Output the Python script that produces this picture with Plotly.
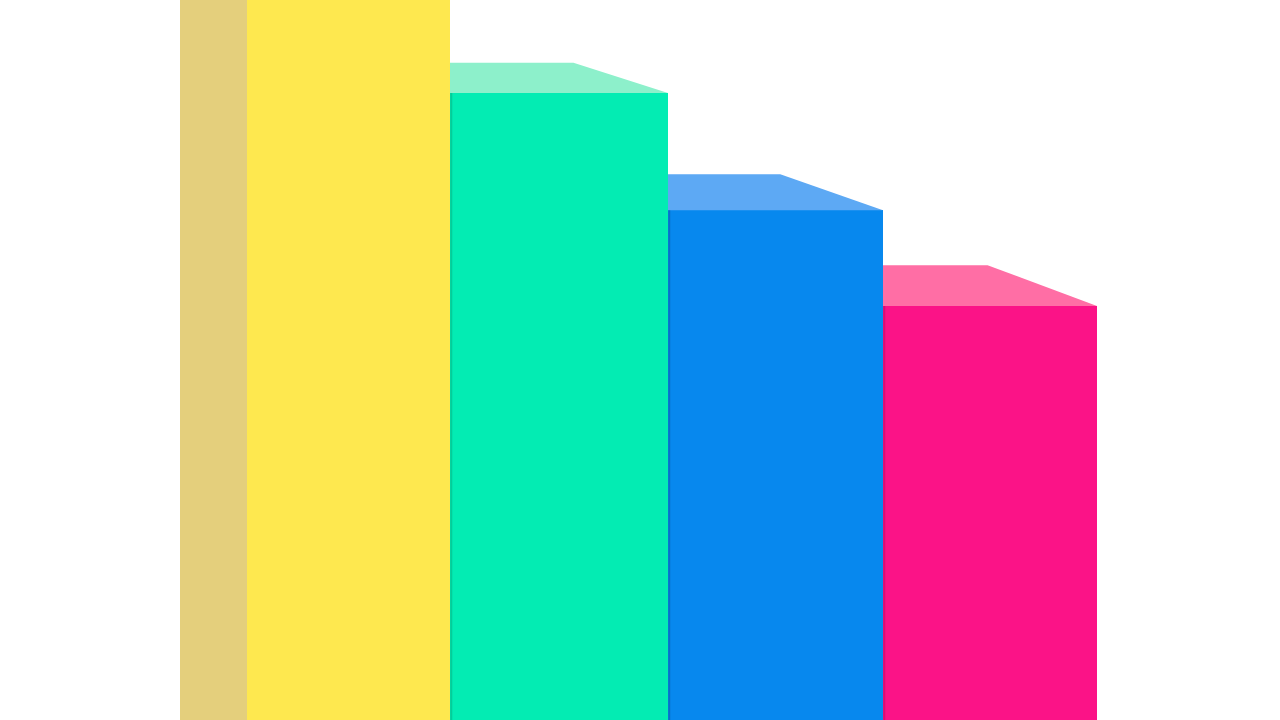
import plotly.graph_objects as go

# dados das barras (altura relativa, 0-100 = altura visível)
categories = ["A", "B", "C", "D"]
values = [110, 87.1, 70.8, 57.5]

# cores: frente, topo, borda escura
front_colors = ["#FEE84F", "#03ECB3", "#0788EE", "#FB1387"]
top_colors = ["#FFF18C", "#8DF0CB", "#5DA9F4", "#FF6EA5"]
edge_colors = ["#D8C44A", "#06B888", "#0A5FB0", "#C00D66"]
side_color = "#E4CF7C"

Y_MAX = 100
PX_PER_UNIT = 720 / Y_MAX
X_UNIT_PX = 212.5

# larguras aparentes (perspectiva), em unidades do eixo x
bar_widths = [203 / X_UNIT_PX, 218 / X_UNIT_PX, 215 / X_UNIT_PX, 214 / X_UNIT_PX]

lefts = []
acc = 0.0
for w in bar_widths:
    lefts.append(acc)
    acc += w
centers = [l + w / 2 for l, w in zip(lefts, bar_widths)]

fig = go.Figure()

# face frontal
fig.add_trace(go.Bar(
    x=centers,
    y=values,
    width=bar_widths,
    marker=dict(color=front_colors, line=dict(width=0)),
    hoverinfo="skip",
    showlegend=False,
))

# lateral esquerda da primeira barra
side_w = 67 / X_UNIT_PX
x0 = lefts[0]
fig.add_trace(go.Scatter(
    x=[x0 - side_w, x0, x0, x0 - side_w, x0 - side_w],
    y=[0, 0, values[0] + 5, values[0] + 5, 0],
    fill="toself", fillcolor=side_color, mode="lines",
    line=dict(width=0), hoverinfo="skip", showlegend=False,
))

# faces de topo (perspectiva aproximada)
for i, v in enumerate(values):
    top_px = 720 - v * PX_PER_UNIT
    dy = (25.5 + 0.05 * top_px) / PX_PER_UNIT
    dx = (88 + 0.07 * top_px) / X_UNIT_PX
    left, right = lefts[i], lefts[i] + bar_widths[i]
    fig.add_trace(go.Scatter(
        x=[left, right, right - dx, left, left],
        y=[v, v, v + dy, v + dy, v],
        fill="toself", fillcolor=top_colors[i], mode="lines",
        line=dict(width=0), hoverinfo="skip", showlegend=False,
    ))
    # sombra na aresta esquerda
    if i > 0:
        fig.add_trace(go.Scatter(
            x=[left + 0.006, left + 0.006],
            y=[0, v],
            mode="lines", line=dict(color=edge_colors[i], width=2),
            opacity=0.6, hoverinfo="skip", showlegend=False,
        ))

left_px = 247
x_lo = lefts[0] - left_px / X_UNIT_PX
x_hi = x_lo + 1280 / X_UNIT_PX

fig.update_layout(
    width=1280,
    height=720,
    margin=dict(l=0, r=0, t=0, b=0),
    paper_bgcolor="white",
    plot_bgcolor="white",
    bargap=0,
    xaxis=dict(range=[x_lo, x_hi], visible=False, fixedrange=True),
    yaxis=dict(range=[0, Y_MAX], visible=False, fixedrange=True),
)

fig.write_html(
    "out.html",
    config={"displayModeBar": False},
    post_script="document.body.style.margin='0';document.body.style.overflow='hidden';",
)
